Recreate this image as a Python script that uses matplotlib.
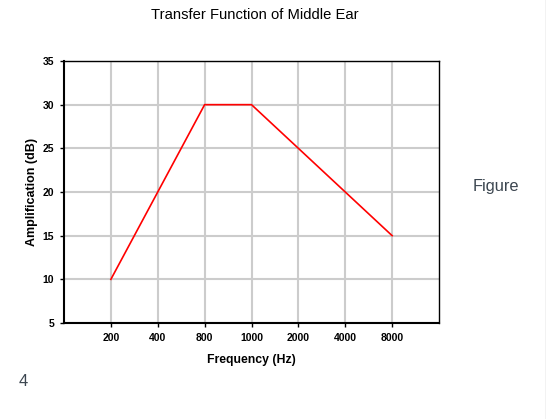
import matplotlib
matplotlib.use("Agg")
import matplotlib.pyplot as plt
from matplotlib.lines import Line2D

freqs = ["200", "400", "800", "1000", "2000", "4000", "8000"]
amplification = [10, 20, 30, 30, 25, 20, 15]
y_ticks = [5, 10, 15, 20, 25, 30, 35]

plt.rcParams['font.family'] = ['Liberation Sans', 'DejaVu Sans']

fig = plt.figure(figsize=(5.46, 4.19), dpi=100)
ax = fig.add_axes([64/546, 1-323/419, (439-64)/546, (323-61)/419])

xpos = list(range(1, len(freqs) + 1))
ax.plot(xpos, amplification, color='#ff0000', lw=1.2, zorder=3)

ax.set_xlim(0, len(freqs) + 1)
ax.set_ylim(5, 35)
ax.set_xticks(xpos)
ax.set_xticklabels(freqs, fontsize=7.5, fontweight='bold')
ax.set_yticks(y_ticks)
ax.set_yticklabels([str(v) for v in y_ticks], fontsize=7.5, fontweight='bold')
ax.grid(True, color='#cccccc', lw=1.5)
ax.set_axisbelow(True)
ax.tick_params(axis='both', length=3, width=1, direction='out', pad=4)

for s in ['left', 'bottom']:
    ax.spines[s].set_linewidth(1.5)
for s in ['top', 'right']:
    ax.spines[s].set_linewidth(1.0)

ax.set_xlabel("Frequency (Hz)", fontsize=8.8, fontweight='bold', labelpad=8)
ax.set_ylabel("Amplification (dB)", fontsize=9, fontweight='bold', labelpad=3.5)

fig.text(255/546, 1-15/419, "Transfer Function of Middle Ear", ha='center', va='center', fontsize=10.6)
fig.text(496/546, 1-186/419, "Figure", ha='center', va='center', fontsize=11.8, color='#3c4650')
fig.text(23/546, 1-381/419, "4", ha='center', va='center', fontsize=12, color='#3c4650')

fig.add_artist(Line2D([545.5/546, 545.5/546], [0, 1], color='#c0c0c0', lw=1, transform=fig.transFigure))

fig.savefig("out.png", dpi=100)
